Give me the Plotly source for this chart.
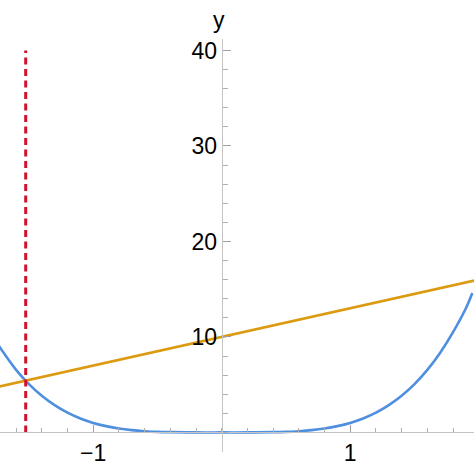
import plotly.graph_objects as go

# curva azul
curve_x = [-1.75, -1.6, -1.5, -1.4, -1.3, -1.2, -1.1, -1.0, -0.9, -0.8, -0.7,
           -0.6, -0.5, -0.4, -0.2, 0.0, 0.2, 0.4, 0.5, 0.6, 0.7, 0.8, 0.9,
           1.0, 1.1, 1.2, 1.3, 1.4, 1.5, 1.6, 1.7, 1.8, 1.9, 1.95]
curve_y = [9.38, 6.55, 5.06, 3.84, 2.86, 2.07, 1.46, 1.0, 0.66, 0.41, 0.24,
           0.13, 0.06, 0.03, 0.0, 0.0, 0.0, 0.03, 0.06, 0.13, 0.24, 0.41, 0.66,
           1.0, 1.46, 2.07, 2.86, 3.84, 5.06, 6.55, 8.35, 10.5, 13.0, 14.6]

# recta naranja
line_x = [-2.0, 2.0]
line_y = [4.0, 16.0]

# línea vertical discontinua
vline_x = [-1.525, -1.525]
vline_y = [0, 40]

xticks = [-1, 1]
xticklabels = ['\u22121', '1']
yticks = [10, 20, 30, 40]
yticklabels = ['10', '20', '30', '40']

xrange_ = [-1.725, 1.963]
yrange_ = [-2.05, 41.2]
ydomain = [22 / 474, 435 / 474]

# posición de los ejes en el origen
x_zero = (0 - xrange_[0]) / (xrange_[1] - xrange_[0])
y_zero = ydomain[0] + (0 - yrange_[0]) / (yrange_[1] - yrange_[0]) * (ydomain[1] - ydomain[0])

fig = go.Figure()
fig.add_trace(go.Scatter(x=curve_x, y=curve_y, mode='lines', line_shape='spline',
                         line=dict(color='#4f8fdf', width=2.6), hoverinfo='skip'))
fig.add_trace(go.Scatter(x=line_x, y=line_y, mode='lines',
                         line=dict(color='#dc9a10', width=2.6), hoverinfo='skip'))
fig.add_trace(go.Scatter(x=vline_x, y=vline_y, mode='lines',
                         line=dict(color='#d0122c', width=3, dash='7px,4.5px'),
                         hoverinfo='skip'))

axis_font = dict(family='Liberation Sans, Arial, sans-serif', size=23, color='black')

fig.update_layout(
    width=474, height=474,
    margin=dict(l=0, r=0, t=0, b=0),
    paper_bgcolor='white', plot_bgcolor='white',
    showlegend=False,
    xaxis=dict(
        range=xrange_, domain=[0, 1], anchor='free', position=y_zero,
        showgrid=False, zeroline=False, showline=True, linecolor='#c4c4c4', linewidth=1,
        tickvals=xticks, ticktext=xticklabels, ticks='inside', ticklen=7,
        tickcolor='#a0a0a0', tickwidth=1, tickfont=axis_font,
        minor=dict(dtick=0.2, tick0=0, ticks='inside', ticklen=4, tickcolor='#b0b0b0'),
    ),
    yaxis=dict(
        range=yrange_, domain=ydomain, anchor='free', position=x_zero,
        showgrid=False, zeroline=False, showline=True, linecolor='#c4c4c4', linewidth=1,
        tickvals=yticks, ticktext=yticklabels, ticks='inside', ticklen=8,
        tickcolor='#a0a0a0', tickwidth=1, tickfont=axis_font,
        minor=dict(dtick=2, tick0=0, ticks='inside', ticklen=5.5, tickcolor='#b0b0b0'),
    ),
    annotations=[dict(text='y', x=-0.02, xref='x', y=1 - 20 / 474, yref='paper',
                      showarrow=False, xanchor='center', yanchor='middle',
                      font=axis_font)],
)

# quitar el margen del body para que la figura quede en la esquina
fig.write_html('out.html', config={'displayModeBar': False},
               post_script="document.body.style.margin='0';")
